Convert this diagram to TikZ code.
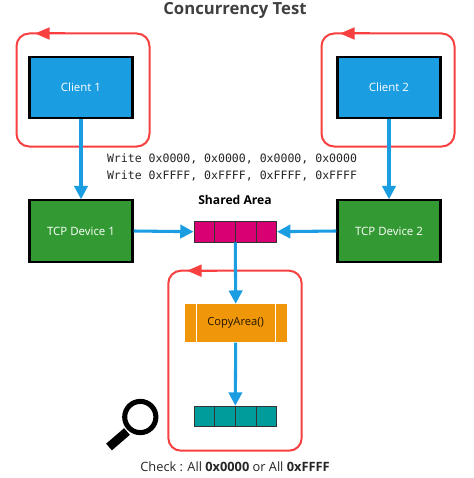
\documentclass[tikz,border=0pt]{standalone}
\usepackage{fontspec}
\setmainfont{Open Sans}
\newfontfamily\codefont{DejaVu Sans Mono}
\usetikzlibrary{arrows.meta,calc}
\definecolor{cblue}{HTML}{1B9DE2}
\definecolor{cgreen}{HTML}{339933}
\definecolor{cmag}{HTML}{D80073}
\definecolor{cteal}{HTML}{009B9B}
\definecolor{corange}{HTML}{F09609}
\definecolor{cred}{HTML}{F84040}
\definecolor{ctitle}{HTML}{404040}
\tikzset{
  x=0.75pt,y=-0.75pt,
  boxn/.style={draw=black,line width=1.6pt,inner sep=0pt,minimum width=77.25pt,text=white,font=\fontsize{8.6pt}{10pt}\selectfont},
  clientbox/.style={boxn,fill=cblue,minimum height=46pt},
  tcpbox/.style={boxn,fill=cgreen,minimum height=46pt},
  loopbox/.style={draw=cred,line width=1.5pt,rounded corners=9.5pt,inner sep=0pt},
  flow/.style={draw=cblue,line width=2.3pt,-{Triangle[length=10pt,width=10pt]}},
  loophead/.style={draw=cred,line width=1.5pt,-{Triangle[length=11pt,width=9pt]}},
  mem/.style={draw=black!80,line width=0.6pt,inner sep=0pt,minimum width=62pt,minimum height=15.5pt},
  cellline/.style={draw=black!80,line width=0.6pt},
  label/.style={inner sep=0pt,font=\fontsize{8.4pt}{10pt}\selectfont}
}
\begin{document}
\begin{tikzpicture}
\useasboundingbox[fill=white] (0,0) rectangle (474,478);
\node[inner sep=0pt,text=ctitle,font=\fontsize{12.5pt}{15pt}\selectfont\bfseries] (title) at (235,10.5) {Concurrency Test};

\node[loopbox,minimum width=99.75pt,minimum height=84.75pt] (loopa) at (83,90) {};
\node[loopbox,minimum width=99.75pt,minimum height=84.75pt] (loopb) at (388,90) {};
\node[loopbox,minimum width=100pt,minimum height=135pt] (loopc) at (235,360.7) {};
\coordinate (la) at (65,33.5); \coordinate (lb) at (370,33.5); \coordinate (lc) at (217,270.7);
\draw[loophead] (la) -- ($(la)+(-30,0)$);
\draw[loophead] (lb) -- ($(lb)+(-30,0)$);
\draw[loophead] (lc) -- ($(lc)+(-30,0)$);

\node[clientbox] (c1) at (81,87.3) {Client 1};
\node[clientbox] (c2) at (389,87.3) {Client 2};
\node[tcpbox] (t1) at (81,231) {TCP Device 1};
\node[tcpbox] (t2) at (389,231) {TCP Device 2};

\node[mem,fill=cmag] (shared) at (235.3,231.7) {};
\node[mem,fill=cteal] (result) at (235.3,416.4) {};
\foreach \n in {shared,result}{
  \draw[cellline] ($(\n.north)+(-20.7,0)$) -- ($(\n.south)+(-20.7,0)$);
  \draw[cellline] (\n.north) -- (\n.south);
  \draw[cellline] ($(\n.north)+(20.7,0)$) -- ($(\n.south)+(20.7,0)$);
}
\node[inner sep=0pt,minimum width=76.5pt,minimum height=28.7pt,fill=corange,font=\fontsize{8.4pt}{10pt}\selectfont,text=black!85!corange] (copy) at (235.7,323.2) {CopyArea()};
\draw[white,line width=0.6pt] ($(copy.north west)+(12,0)$) -- ($(copy.south west)+(12,0)$);
\draw[white,line width=0.6pt] ($(copy.north east)+(-11.7,0)$) -- ($(copy.south east)+(-11.7,0)$);

\draw[flow] (c1.south) -- (t1.north);
\draw[flow] (c2.south) -- (t2.north);
\draw[flow] (t1.east) -- (shared.west);
\draw[flow] (t2.west) -- (shared.east);
\draw[flow] (shared.south) -- (copy.north);
\draw[flow] (copy.south) -- (result.north);

\node[inner sep=0pt,font=\fontsize{8.65pt}{10pt}\selectfont\codefont,text=black!85] (w1) at (232,158.5) {Write 0x0000, 0x0000, 0x0000, 0x0000};
\node[inner sep=0pt,font=\fontsize{8.65pt}{10pt}\selectfont\codefont,text=black!85] (w2) at (232,176) {Write 0xFFFF, 0xFFFF, 0xFFFF, 0xFFFF};
\node[label,font=\fontsize{9.1pt}{11pt}\selectfont\bfseries] (sa) at (235,200) {Shared Area};
\node[label,font=\fontsize{9.6pt}{11pt}\selectfont,text=black!85] (chk) at (235,467) {Check : All \textbf{0x0000} or All \textbf{0xFFFF}};

\coordinate (hs) at (109,447);
\coordinate (he) at (127,431.5);
\draw[black,line width=6.6pt] (hs) -- (he);
\node[draw=black,line width=3.8pt,circle,inner sep=0pt,minimum size=23.4pt] (lens) at (140.3,417) {};
\end{tikzpicture}
\end{document}
